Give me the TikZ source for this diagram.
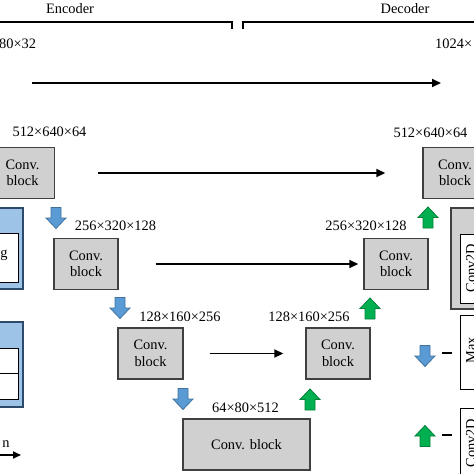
\documentclass[tikz,border=0pt]{standalone}
\usepackage{fontspec}
\setmainfont{Liberation Serif}
\usetikzlibrary{arrows.meta}
\definecolor{boxgray}{HTML}{D0D0D0}
\definecolor{edgegray}{HTML}{404040}
\definecolor{poolblue}{HTML}{5B9BD5}
\definecolor{pooledge}{HTML}{41719C}
\definecolor{upgreen}{HTML}{00B050}
\definecolor{upedge}{HTML}{00803A}
\definecolor{inblue}{HTML}{9DC3E6}
\definecolor{inedge}{HTML}{2E4A6B}
\tikzset{
  poolarrow/.pic={\draw[draw=pooledge, fill=poolblue, line width=0.8pt]
    (-5,-10.5) -- (5,-10.5) -- (5,0) -- (10,0) -- (0,10.5) -- (-10,0) -- (-5,0) -- cycle;},
  uparrow/.pic={\draw[draw=upedge, fill=upgreen, line width=0.8pt]
    (-5,10.5) -- (5,10.5) -- (5,0) -- (10,0) -- (0,-10.5) -- (-10,0) -- (-5,0) -- cycle;}
}
\begin{document}
\begin{tikzpicture}[x=1pt,y=-1pt,
  every node/.style={font=\fontsize{14.4}{16.5}\selectfont, inner sep=0pt},
  convblock/.style={draw=edgegray, fill=boxgray, line width=1.4pt,
    minimum width=64pt, minimum height=51pt, align=center},
  dims/.style={anchor=base},
  skiparrow/.style={line width=1.8pt, -{Triangle[length=9pt,width=8pt]}},
  legendbox/.style={draw=black, fill=white, line width=1pt}]
  \useasboundingbox (0,0) rectangle (474,474);
  \clip (0,0) rectangle (474,474);

  % top brace and titles
  \node[dims] (enc) at (70,13) {Encoder};
  \node[dims] (dec) at (405,13) {Decoder};
  \draw[line width=1.3pt] (-5,22) -- (232,22) -- (232,29);
  \draw[line width=1.3pt] (243,29) -- (243,22) -- (480,22);
  \node[dims, anchor=base west] (insize) at (-1,48) {80×32};
  \node[dims, anchor=base west] (outsize) at (435,48) {1024×};
  \coordinate (topL) at (32,83);
  \coordinate (topR) at (441,83);
  \draw[skiparrow] (topL) -- (topR);

  % encoder
  \node[convblock] (enc1) at (22.5,173) {Conv.\\block};
  \node[convblock] (enc2) at (86,264) {Conv.\\block};
  \node[convblock, minimum width=65pt] (enc3) at (150.5,353.5) {Conv.\\block};
  \node[convblock, minimum width=127pt] (mid) at (246.5,444.5) {Conv. block};

  % decoder
  \node[convblock] (dec3) at (338,353.5) {Conv.\\block};
  \node[convblock] (dec2) at (396,264) {Conv.\\block};
  \node[convblock] (dec1) at (455,173) {Conv.\\block};

  % sizes
  \node[dims] at (49.5,136) {512×640×64};
  \node[dims] at (115.5,230) {256×320×128};
  \node[dims] at (180,321) {128×160×256};
  \node[dims] at (245.5,412) {64×80×512};
  \node[dims] at (309,321) {128×160×256};
  \node[dims] at (366,230) {256×320×128};
  \node[dims] at (430.5,137) {512×640×64};

  % pooling and upsampling
  \pic (p1) at (56,218) {poolarrow};
  \pic (p2) at (120,308) {poolarrow};
  \pic (p3) at (183,399) {poolarrow};
  \pic (u1) at (310,399.5) {uparrow};
  \pic (u2) at (370,308.5) {uparrow};
  \pic (u3) at (428,217.5) {uparrow};

  % skip connections
  \draw[skiparrow, shorten <=43pt, shorten >=37pt] (enc1) -- (dec1);
  \draw[skiparrow, shorten <=37pt, shorten >=5pt] (enc2) -- (dec2);
  \draw[skiparrow, shorten <=26pt, shorten >=22pt] (enc3) -- (dec3);

  % input side (left)
  \draw[fill=inblue, draw=inedge, line width=1.2pt] (-30,208) rectangle (23,289);
  \draw[legendbox] (-30,233) rectangle (18,282);
  \node[dims] (ing) at (4,257) {g};
  \draw[fill=inblue, draw=inedge, line width=1.2pt] (-30,322) rectangle (23,407);
  \draw[legendbox] (-30,348) rectangle (18,399);
  \draw[line width=1pt] (-30,373) -- (18,373);
  \node[dims] (inn) at (6,447) {n};
  \coordinate (legL) at (-5,455);
  \coordinate (legR) at (21,455);
  \draw[line width=1.8pt, -{Triangle[length=8pt,width=7pt]}] (legL) -- (legR);

  % legend (right)
  \draw[fill=boxgray, draw=edgegray, line width=1.2pt] (451,208) rectangle (500,309);
  \draw[legendbox] (460,234) rectangle (500,303);
  \node[rotate=90, anchor=north] (lconv) at (466,268) {Conv2D};
  \draw[legendbox] (460,315) rectangle (500,389);
  \node[rotate=90, anchor=north] (lmax) at (466,350) {Max};
  \draw[legendbox] (460,408) rectangle (500,490);
  \node[rotate=90, anchor=north] (lconv2) at (466,443) {Conv2D};
  \pic (lp) at (425,356) {poolarrow};
  \pic (lu) at (425,436) {uparrow};
  \coordinate (dashA) at (442,353);
  \coordinate (dashB) at (452,353);
  \coordinate (dashC) at (442,435);
  \coordinate (dashD) at (452,435);
  \draw[line width=1.4pt] (dashA) -- (dashB);
  \draw[line width=1.4pt] (dashC) -- (dashD);
\end{tikzpicture}
\end{document}
